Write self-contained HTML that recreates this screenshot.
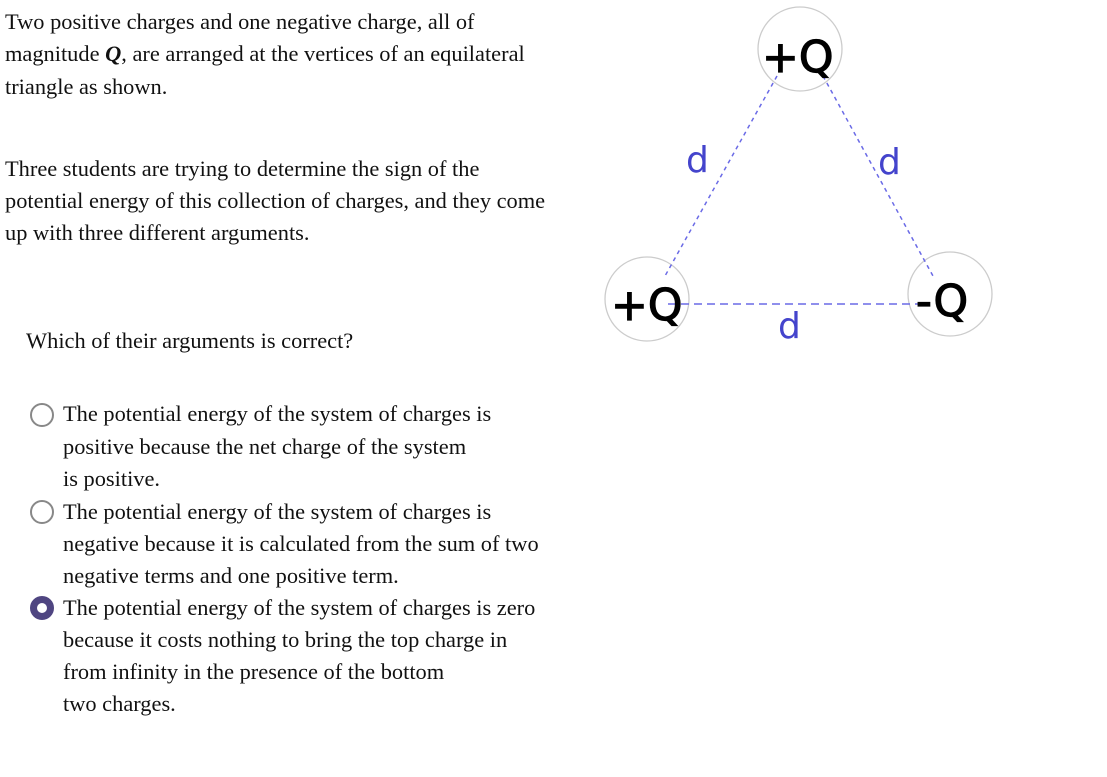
<!DOCTYPE html>
<html><head><style>
body{margin:0;width:1107px;height:777px;background:#fff;position:relative;font-family:"Liberation Serif",serif;font-size:22.4px;color:#111;overflow:hidden}
.l{position:absolute;white-space:nowrap;line-height:24px}
.r{position:absolute;left:30px;width:24px;height:24px;border:2px solid #888;border-radius:50%;box-sizing:border-box}
</style></head><body>
<div class="l" style="left:5px;top:10px">Two positive charges and one negative charge, all of</div>
<div class="l" style="left:5px;top:42px">magnitude <i><b>Q</b></i>, are arranged at the vertices of an equilateral</div>
<div class="l" style="left:5px;top:75px">triangle as shown.</div>
<div class="l" style="left:5px;top:157px">Three students are trying to determine the sign of the</div>
<div class="l" style="left:5px;top:189px">potential energy of this collection of charges, and they come</div>
<div class="l" style="left:5px;top:221px">up with three different arguments.</div>
<div class="l" style="left:26px;top:329px">Which of their arguments is correct?</div>
<div class="r" style="top:403px"></div>
<div class="l" style="left:63px;top:402px">The potential energy of the system of charges is</div>
<div class="l" style="left:63px;top:435px">positive because the net charge of the system</div>
<div class="l" style="left:63px;top:467px">is positive.</div>
<div class="r" style="top:500px"></div>
<div class="l" style="left:63px;top:500px">The potential energy of the system of charges is</div>
<div class="l" style="left:63px;top:532px">negative because it is calculated from the sum of two</div>
<div class="l" style="left:63px;top:564px">negative terms and one positive term.</div>
<div class="r" style="top:596px;border:7px solid #4f4581;background:#fff"></div>
<div class="l" style="left:63px;top:596px">The potential energy of the system of charges is zero</div>
<div class="l" style="left:63px;top:628px">because it costs nothing to bring the top charge in</div>
<div class="l" style="left:63px;top:660px">from infinity in the presence of the bottom</div>
<div class="l" style="left:63px;top:692px">two charges.</div>
<svg style="position:absolute;left:0;top:0" width="1107" height="777">
<g fill="none" stroke="#ccc" stroke-width="1.3">
<circle cx="800" cy="49" r="42"/><circle cx="647" cy="299" r="42"/><circle cx="950" cy="294" r="42"/></g>
<g stroke="#6a6ae6" stroke-width="1.5" stroke-dasharray="4,4" fill="none">
<line x1="777" y1="76" x2="665" y2="276"/>
<line x1="823" y1="76" x2="933" y2="276"/>
<line x1="668" y1="304" x2="922" y2="304" stroke-dasharray="8,5"/></g>
<g font-family="DejaVu Sans,sans-serif" fill="#4444cc" font-size="36">
<text x="686" y="172">d</text><text x="878" y="174">d</text><text x="778" y="338">d</text></g>
<g font-family="DejaVu Sans,sans-serif" fill="#000" font-size="44" stroke="#000" stroke-width="1.2">
<text x="762" y="72">+Q</text><text x="611" y="320">+Q</text><text x="916" y="316">-Q</text></g>
</svg>
</body></html>
